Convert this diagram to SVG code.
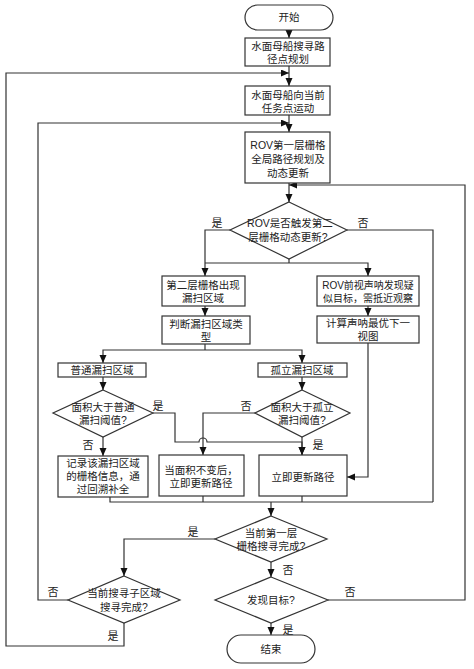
<svg xmlns="http://www.w3.org/2000/svg" width="474" height="669" viewBox="0 0 474 669">
<defs>
<marker id="ah" markerWidth="8" markerHeight="8" refX="8" refY="3.5" orient="auto" markerUnits="userSpaceOnUse">
<path d="M0,0 L8,3.5 L0,7 z" fill="#111"/>
</marker>
<style>
.n{fill:#fff;stroke:#333;stroke-width:1.2}
.t{font-family:"Liberation Sans","Noto Sans CJK SC",sans-serif;font-size:10.5px;fill:#222;text-anchor:middle}
.l{font-family:"Liberation Sans","Noto Sans CJK SC",sans-serif;font-size:11px;fill:#222;text-anchor:middle}
.c{fill:none;stroke:#333;stroke-width:1.2}
.a{marker-end:url(#ah)}
</style>
</defs>
<rect width="474" height="669" fill="#fff"/>
<g id="connectors">
<path class="c a" d="M289,30 V38"/>
<path class="c a" d="M289,66 V86"/>
<path class="c a" d="M124,623 V646 H6 V73 H289"/>
<path class="c a" d="M289,115 V132"/>
<path class="c a" d="M68,600 H38 V123 H289"/>
<path class="c a" d="M289,183 V202"/>
<path class="c a" d="M328,600 H465 V185 H289"/>
<path class="c a" d="M230,230 H205 V276"/>
<path class="c" d="M289,259 V263"/>
<path class="c a" d="M205,263 H368 V276"/>
<path class="c" d="M347,230 H433 V502"/>
<path class="c a" d="M205,306 V316"/>
<path class="c a" d="M368,306 V316"/>
<path class="c" d="M205,344 V350"/>
<path class="c a" d="M205,350 H103 V363"/>
<path class="c a" d="M205,350 H302 V363"/>
<path class="c a" d="M103,377 V390"/>
<path class="c a" d="M302,377 V390"/>
<path class="c a" d="M153,413 H175 V442 H199 A4,4 0 0 1 207,442 H302 V455"/>
<path class="c a" d="M302,437 V455"/>
<path class="c a" d="M255,413 H203 V455"/>
<path class="c a" d="M103,437 V456"/>
<path class="c a" d="M368,343 V477 H347"/>
<path class="c" d="M110,497 V502 H433"/>
<path class="c" d="M203,496 V502"/>
<path class="c" d="M302,496 V502"/>
<path class="c a" d="M271,502 V516"/>
<path class="c a" d="M215,539 H124 V576"/>
<path class="c a" d="M271,562 V577"/>
<path class="c a" d="M271,623 V635"/>
</g>
<g id="labels">
<text class="l" x="217" y="227">是</text>
<text class="l" x="363" y="227">否</text>
<text class="l" x="158" y="410">是</text>
<text class="l" x="88" y="449">否</text>
<text class="l" x="246" y="410">否</text>
<text class="l" x="318" y="449">是</text>
<text class="l" x="193" y="536">是</text>
<text class="l" x="288" y="574">否</text>
<text class="l" x="350" y="596">否</text>
<text class="l" x="288" y="634">是</text>
<text class="l" x="53" y="596">否</text>
<text class="l" x="113" y="640">是</text>
</g>
<g id="start">
<rect class="n" x="245" y="5" width="88" height="25" rx="12.5"/>
<text class="t" x="289" y="21">开始</text>
</g>
<g id="plan">
<rect class="n" x="245" y="38" width="85" height="28"/>
<text class="t" x="288" y="50">水面母船搜寻路</text>
<text class="t" x="288" y="63">径点规划</text>
</g>
<g id="move">
<rect class="n" x="245" y="86" width="85" height="29"/>
<text class="t" x="288" y="99">水面母船向当前</text>
<text class="t" x="288" y="112">任务点运动</text>
</g>
<g id="rov1">
<rect class="n" x="245" y="132" width="85" height="51"/>
<text class="t" x="288" y="149">ROV第一层栅格</text>
<text class="t" x="288" y="163">全局路径规划及</text>
<text class="t" x="288" y="177">动态更新</text>
</g>
<g id="d1">
<polygon class="n" points="289,202 347,230 289,259 230,230"/>
<text class="t" x="290" y="227">ROV是否触发第二</text>
<text class="t" x="288" y="241">层栅格动态更新?</text>
</g>
<g id="miss">
<rect class="n" x="162" y="276" width="83" height="30"/>
<text class="t" x="203" y="289">第二层栅格出现</text>
<text class="t" x="203" y="302">漏扫区域</text>
</g>
<g id="sonar">
<rect class="n" x="317" y="276" width="102" height="30"/>
<text class="t" x="368" y="289" style="font-size:10px">ROV前视声呐发现疑</text>
<text class="t" x="368" y="302" style="font-size:10px">似目标，需抵近观察</text>
</g>
<g id="judge">
<rect class="n" x="162" y="316" width="88" height="28"/>
<text class="t" x="206" y="328">判断漏扫区域类</text>
<text class="t" x="206" y="341">型</text>
</g>
<g id="view">
<rect class="n" x="317" y="316" width="102" height="27"/>
<text class="t" x="368" y="327">计算声呐最优下一</text>
<text class="t" x="368" y="340">视图</text>
</g>
<g id="normal">
<rect class="n" x="58" y="363" width="88" height="14"/>
<text class="t" x="102" y="374">普通漏扫区域</text>
</g>
<g id="isolated">
<rect class="n" x="258" y="363" width="89" height="14"/>
<text class="t" x="302" y="374">孤立漏扫区域</text>
</g>
<g id="d2">
<polygon class="n" points="103,390 153,413 103,437 53,413"/>
<text class="t" x="103" y="411">面积大于普通</text>
<text class="t" x="103" y="424">漏扫阈值?</text>
</g>
<g id="d3">
<polygon class="n" points="302,390 350,413 302,437 255,413"/>
<text class="t" x="302" y="411">面积大于孤立</text>
<text class="t" x="302" y="424">漏扫阈值?</text>
</g>
<g id="record">
<rect class="n" x="58" y="456" width="90" height="41"/>
<text class="t" x="103" y="467">记录该漏扫区域</text>
<text class="t" x="103" y="480">的栅格信息，通</text>
<text class="t" x="103" y="493">过回溯补全</text>
</g>
<g id="wait">
<rect class="n" x="159" y="455" width="85" height="41"/>
<text class="t" x="201" y="474">当面积不变后，</text>
<text class="t" x="201" y="487">立即更新路径</text>
</g>
<g id="update">
<rect class="n" x="259" y="455" width="88" height="41"/>
<text class="t" x="303" y="481">立即更新路径</text>
</g>
<g id="d4">
<polygon class="n" points="271,516 327,539 271,562 215,539"/>
<text class="t" x="271" y="537">当前第一层</text>
<text class="t" x="271" y="550">栅格搜寻完成?</text>
</g>
<g id="d5">
<polygon class="n" points="271,577 328,600 271,623 215,600"/>
<text class="t" x="271" y="604">发现目标?</text>
</g>
<g id="d6">
<polygon class="n" points="124,576 180,600 124,623 68,600"/>
<text class="t" x="124" y="597">当前搜寻子区域</text>
<text class="t" x="124" y="611">搜寻完成?</text>
</g>
<g id="end">
<rect class="n" x="227" y="635" width="88" height="28" rx="14"/>
<text class="t" x="271" y="653">结束</text>
</g>
</svg>
